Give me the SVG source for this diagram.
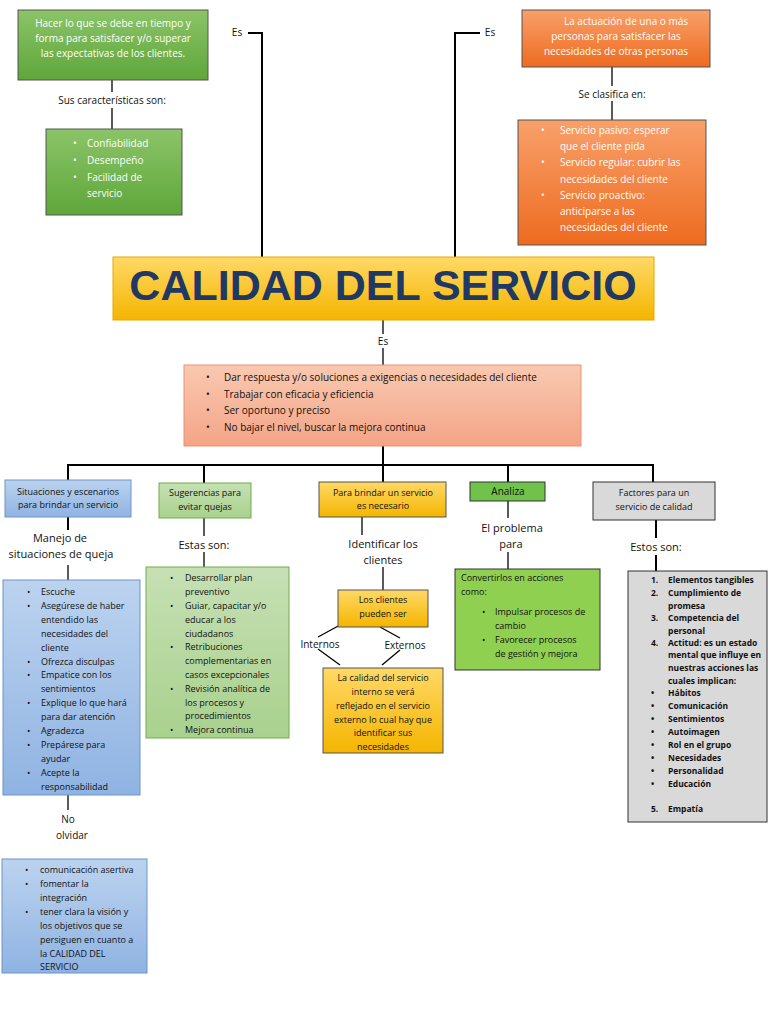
<svg xmlns="http://www.w3.org/2000/svg" width="768" height="1024" viewBox="0 0 768 1024">
<defs>
<linearGradient id="gGreen" x1="0" y1="0" x2="0" y2="1"><stop offset="0" stop-color="#8bc468"/><stop offset="1" stop-color="#5fa63a"/></linearGradient>
<linearGradient id="gOrange" x1="0" y1="0" x2="0" y2="1"><stop offset="0" stop-color="#f8a06a"/><stop offset="1" stop-color="#ee6b1f"/></linearGradient>
<linearGradient id="gGold" x1="0" y1="0" x2="0" y2="1"><stop offset="0" stop-color="#ffd966"/><stop offset="1" stop-color="#f5b500"/></linearGradient>
<linearGradient id="gSalmon" x1="0" y1="0" x2="0" y2="1"><stop offset="0" stop-color="#f9c9b0"/><stop offset="1" stop-color="#f4a487"/></linearGradient>
<linearGradient id="gBlue" x1="0" y1="0" x2="0" y2="1"><stop offset="0" stop-color="#bcd3ef"/><stop offset="1" stop-color="#8fb3e2"/></linearGradient>
<linearGradient id="gLGreen" x1="0" y1="0" x2="0" y2="1"><stop offset="0" stop-color="#c6e0b4"/><stop offset="1" stop-color="#a9d18e"/></linearGradient>
</defs>
<style>
text{font-family:"Open Sans","Noto Sans",sans-serif;fill:#111}
.s{font-size:10px}
.t{font-size:9px}
.xs{font-size:8.5px;font-weight:bold}
.l{font-size:11px}
.w{fill:#fff}
.c{text-anchor:middle}
.ln{stroke:#000;stroke-width:2;fill:none}
.th{stroke:#000;stroke-width:1.3;fill:none}
.bx{stroke:#555;stroke-width:1}
</style>
<g id="connectors">
<polyline class="ln" points="248,33 262,33 262,258"/>
<polyline class="ln" points="455,258 455,33 480,33"/>
<line class="th" x1="537" y1="22" x2="556" y2="22"/>
<line class="th" x1="112" y1="80" x2="112" y2="92"/>
<line class="th" x1="112" y1="108" x2="112" y2="130"/>
<line class="th" x1="612" y1="67" x2="612" y2="86"/>
<line class="th" x1="612" y1="101" x2="612" y2="120"/>
<line class="th" x1="383" y1="320" x2="383" y2="334"/>
<line class="th" x1="383" y1="348" x2="383" y2="365"/>
<line class="ln" x1="383" y1="446" x2="383" y2="465"/>
<polyline class="ln" points="68,480 68,465 653,465 653,482"/>
<line class="ln" x1="204" y1="465" x2="204" y2="483"/>
<line class="ln" x1="383" y1="465" x2="383" y2="482"/>
<line class="ln" x1="508" y1="465" x2="508" y2="482"/>
<line class="ln" x1="68" y1="517" x2="68" y2="530"/>
<line class="th" x1="68" y1="565" x2="68" y2="580"/>
<line class="th" x1="204" y1="518" x2="204" y2="536"/>
<line class="th" x1="204" y1="552" x2="204" y2="567"/>
<line class="th" x1="362" y1="517" x2="362" y2="535"/>
<line class="th" x1="383" y1="567" x2="383" y2="590"/>
<line class="th" x1="508" y1="501" x2="508" y2="518"/>
<line class="th" x1="508" y1="552" x2="508" y2="569"/>
<line class="ln" x1="656" y1="520" x2="656" y2="538"/>
<line class="ln" x1="656" y1="555" x2="656" y2="571"/>
<line class="th" x1="68" y1="795" x2="68" y2="810"/>
<line class="th" x1="340" y1="625" x2="318" y2="637"/>
<line class="th" x1="380" y1="627" x2="400" y2="638"/>
<line class="th" x1="318" y1="649" x2="340" y2="665"/>
<line class="th" x1="400" y1="650" x2="382" y2="665"/>
</g>
<g id="es1"><text x="237" y="36" class="s c">Es</text></g>
<g id="es2"><text x="490" y="36" class="s c">Es</text></g>
<g id="def1"><rect x="18" y="10" width="190" height="70" fill="url(#gGreen)" class="bx"/>
<text class="s c w" x="113" y="27">Hacer lo que se debe en tiempo y</text>
<text class="s c w" x="113" y="42">forma para satisfacer y/o superar</text>
<text class="s c w" x="113" y="57">las expectativas de los clientes.</text></g>
<g id="lab1"><text x="112" y="104" class="s c">Sus características son:</text></g>
<g id="car"><rect x="46" y="129" width="136" height="86" fill="url(#gGreen)" class="bx"/>
<text class="s w" x="73" y="147">•</text><text class="s w" x="87" y="147">Confiabilidad</text>
<text class="s w" x="73" y="164">•</text><text class="s w" x="87" y="164">Desempeño</text>
<text class="s w" x="73" y="181">•</text><text class="s w" x="87" y="181">Facilidad de</text>
<text class="s w" x="87" y="197">servicio</text></g>
<g id="def2"><rect x="522" y="10" width="188" height="57" fill="url(#gOrange)" class="bx"/>
<text class="s c w" x="626" y="25">La actuación de una o más</text>
<text class="s c w" x="616" y="40">personas para satisfacer las</text>
<text class="s c w" x="616" y="55">necesidades de otras personas</text></g>
<g id="lab2"><text x="612" y="98" class="s c">Se clasifica en:</text></g>
<g id="clas"><rect x="518" y="120" width="188" height="125" fill="url(#gOrange)" class="bx"/>
<text class="s w" x="541" y="134">•</text><text class="s w" x="560" y="134">Servicio pasivo: esperar</text>
<text class="s w" x="560" y="150">que el cliente pida</text>
<text class="s w" x="541" y="166">•</text><text class="s w" x="560" y="166">Servicio regular: cubrir las</text>
<text class="s w" x="560" y="183">necesidades del cliente</text>
<text class="s w" x="541" y="199">•</text><text class="s w" x="560" y="199">Servicio proactivo:</text>
<text class="s w" x="560" y="215">anticiparse a las</text>
<text class="s w" x="560" y="231">necesidades del cliente</text></g>
<g id="title"><rect x="113" y="257" width="541" height="63" fill="url(#gGold)" stroke="#e6a800"/>
<text x="383" y="300" class="c" style="font-family:'Liberation Sans',Arial,sans-serif;font-size:43px;font-weight:bold;fill:#1f3864">CALIDAD DEL SERVICIO</text></g>
<g id="es3"><text x="383" y="345" class="s c">Es</text></g>
<g id="es"><rect x="184" y="365" width="397" height="81" fill="url(#gSalmon)" stroke="#e8926e"/>
<text class="s" x="206" y="381">•</text><text class="s" x="224" y="381">Dar respuesta y/o soluciones a exigencias o necesidades del cliente</text>
<text class="s" x="206" y="398">•</text><text class="s" x="224" y="398">Trabajar con eficacia y eficiencia</text>
<text class="s" x="206" y="414">•</text><text class="s" x="224" y="414">Ser oportuno y preciso</text>
<text class="s" x="206" y="431">•</text><text class="s" x="224" y="431">No bajar el nivel, buscar la mejora continua</text></g>
<g id="sit"><rect x="5" y="480" width="126" height="37" fill="url(#gBlue)" stroke="#6d94c8"/>
<text class="t c" x="68" y="495">Situaciones y escenarios</text><text class="t c" x="68" y="508">para brindar un servicio</text></g>
<g id="lab-man"><text class="l c" x="60" y="542">Manejo de</text><text class="l c" x="61" y="558">situaciones de queja</text></g>
<g id="manejo"><rect x="3" y="580" width="137" height="215" fill="url(#gBlue)" stroke="#6d94c8"/>
<g class="t"><text x="27" y="595">•</text><text x="41" y="595">Escuche</text>
<text x="27" y="609">•</text><text x="41" y="609">Asegúrese de haber</text>
<text x="41" y="623">entendido las</text><text x="41" y="637">necesidades del</text><text x="41" y="651">cliente</text>
<text x="27" y="665">•</text><text x="41" y="665">Ofrezca disculpas</text>
<text x="27" y="678">•</text><text x="41" y="678">Empatice con los</text><text x="41" y="692">sentimientos</text>
<text x="27" y="706">•</text><text x="41" y="706">Explique lo que hará</text><text x="41" y="720">para dar atención</text>
<text x="27" y="734">•</text><text x="41" y="734">Agradezca</text>
<text x="27" y="748">•</text><text x="41" y="748">Prepárese para</text><text x="41" y="762">ayudar</text>
<text x="27" y="776">•</text><text x="41" y="776">Acepte la</text><text x="41" y="790">responsabilidad</text></g></g>
<g id="lab-no"><text class="s c" x="68" y="823">No</text><text class="s c" x="72" y="839">olvidar</text></g>
<g id="olvidar"><rect x="2" y="859" width="145" height="114" fill="url(#gBlue)" stroke="#6d94c8"/>
<g class="t"><text x="25" y="873">•</text><text x="40" y="873">comunicación asertiva</text>
<text x="25" y="887">•</text><text x="40" y="887">fomentar la</text><text x="40" y="901">integración</text>
<text x="25" y="915">•</text><text x="40" y="915">tener clara la visión y</text><text x="40" y="929">los objetivos que se</text>
<text x="40" y="943">persiguen en cuanto a</text><text x="40" y="957">la CALIDAD DEL</text><text x="40" y="970">SERVICIO</text></g></g>
<g id="sug"><rect x="159" y="483" width="92" height="35" fill="url(#gLGreen)" stroke="#70ad47"/>
<text class="t c" x="205" y="496">Sugerencias para</text><text class="t c" x="205" y="510">evitar quejas</text></g>
<g id="lab-estas"><text class="l c" x="204" y="549">Estas son:</text></g>
<g id="sugl"><rect x="146" y="567" width="143" height="171" fill="url(#gLGreen)" stroke="#70ad47"/>
<g class="t"><text x="170" y="581">•</text><text x="185" y="581">Desarrollar plan</text><text x="185" y="595">preventivo</text>
<text x="170" y="609">•</text><text x="185" y="609">Guiar, capacitar y/o</text><text x="185" y="623">educar a los</text><text x="185" y="637">ciudadanos</text>
<text x="170" y="650">•</text><text x="185" y="650">Retribuciones</text><text x="185" y="664">complementarias en</text><text x="185" y="678">casos excepcionales</text>
<text x="170" y="692">•</text><text x="185" y="692">Revisión analítica de</text><text x="185" y="706">los procesos y</text><text x="185" y="719">procedimientos</text>
<text x="170" y="733">•</text><text x="185" y="733">Mejora continua</text></g></g>
<g id="para"><rect x="319" y="482" width="127" height="35" fill="url(#gGold)" stroke="#555"/>
<text class="t c" x="383" y="496">Para brindar un servicio</text><text class="t c" x="383" y="509">es necesario</text></g>
<g id="lab-id"><text class="l c" x="383" y="548">Identificar los</text><text class="l c" x="383" y="564">clientes</text></g>
<g id="pueden"><rect x="338" y="590" width="90" height="37" fill="url(#gGold)" stroke="#555"/>
<text class="t c" x="383" y="603">Los clientes</text><text class="t c" x="383" y="617">pueden ser</text></g>
<g id="lab-int"><text class="s c" x="320" y="648">Internos</text></g>
<g id="lab-ext"><text class="s c" x="405" y="649">Externos</text></g>
<g id="calint"><rect x="323" y="668" width="120" height="85" fill="url(#gGold)" stroke="#555"/>
<g class="t c"><text x="383" y="681">La calidad del servicio</text><text x="383" y="695">interno se verá</text><text x="383" y="709">reflejado en el servicio</text>
<text x="383" y="723">externo lo cual hay que</text><text x="383" y="736">identificar sus</text><text x="383" y="750">necesidades</text></g></g>
<g id="analiza"><rect x="470" y="482" width="75" height="19" fill="#70c24a" stroke="#333"/>
<text class="s c" x="508" y="495">Analiza</text></g>
<g id="lab-prob"><text class="l c" x="512" y="532">El problema</text><text class="l c" x="511" y="548">para</text></g>
<g id="conv"><rect x="455" y="569" width="145" height="101" fill="#8fd050" stroke="#333"/>
<g class="t"><text x="461" y="581">Convertirlos en acciones</text><text x="461" y="595">como:</text>
<text x="482" y="615">•</text><text x="495" y="615">Impulsar procesos de</text><text x="495" y="629">cambio</text>
<text x="482" y="643">•</text><text x="495" y="643">Favorecer procesos</text><text x="495" y="657">de gestión y mejora</text></g></g>
<g id="fac"><rect x="593" y="482" width="122" height="38" fill="#d9d9d9" stroke="#333"/>
<text class="t c" x="654" y="496">Factores para un</text><text class="t c" x="654" y="510">servicio de calidad</text></g>
<g id="lab-estos"><text class="l c" x="656" y="551">Estos son:</text></g>
<g id="facl"><rect x="628" y="571" width="139" height="251" fill="#d9d9d9" stroke="#333"/>
<g class="xs"><text x="651" y="583">1.</text><text x="668" y="583">Elementos tangibles</text>
<text x="651" y="596">2.</text><text x="668" y="596">Cumplimiento de</text><text x="668" y="609">promesa</text>
<text x="651" y="621">3.</text><text x="668" y="621">Competencia del</text><text x="668" y="634">personal</text>
<text x="651" y="646">4.</text><text x="668" y="646">Actitud: es un estado</text><text x="668" y="658">mental que influye en</text>
<text x="668" y="671">nuestras acciones las</text><text x="668" y="684">cuales implican:</text>
<text x="651" y="696">•</text><text x="668" y="696">Hábitos</text>
<text x="651" y="709">•</text><text x="668" y="709">Comunicación</text>
<text x="651" y="722">•</text><text x="668" y="722">Sentimientos</text>
<text x="651" y="735">•</text><text x="668" y="735">Autoimagen</text>
<text x="651" y="748">•</text><text x="668" y="748">Rol en el grupo</text>
<text x="651" y="761">•</text><text x="668" y="761">Necesidades</text>
<text x="651" y="774">•</text><text x="668" y="774">Personalidad</text>
<text x="651" y="787">•</text><text x="668" y="787">Educación</text>
<text x="651" y="812">5.</text><text x="668" y="812">Empatía</text></g></g>
</svg>
